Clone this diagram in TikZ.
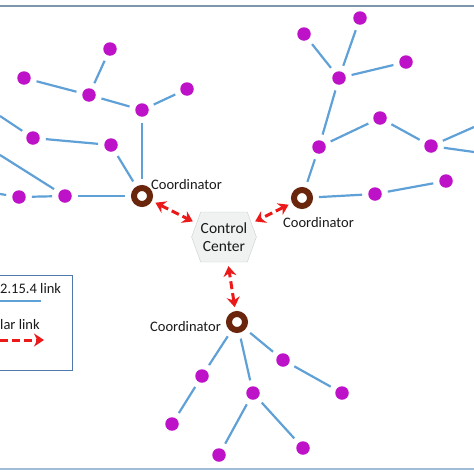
\documentclass[tikz,border=0pt]{standalone}
\usepackage{fontspec}
\setmainfont{Carlito}
\usetikzlibrary{arrows.meta,shapes.symbols}

\definecolor{sensorpurple}{RGB}{190,18,200}
\definecolor{ringbrown}{RGB}{105,38,12}
\definecolor{linkblue}{RGB}{95,160,215}
\definecolor{cellred}{RGB}{235,25,25}
\definecolor{framegray}{RGB}{125,150,172}
\definecolor{framelight}{RGB}{160,190,215}
\definecolor{legendblue}{RGB}{80,120,170}
\definecolor{ctrlfill}{RGB}{240,242,242}
\definecolor{ctrldraw}{RGB}{200,206,206}
\definecolor{textgray}{RGB}{25,25,25}

\begin{document}
\begin{tikzpicture}[x=1pt, y=-1pt,
    sensor/.style={circle, fill=sensorpurple, inner sep=0pt, minimum size=13.5pt},
    coordinator/.style={circle, draw=ringbrown, line width=6pt, inner sep=0pt, minimum size=16pt},
    ctrl/.style={signal, signal to=west and east, signal pointer angle=140, fill=ctrlfill, draw=ctrldraw,
                 minimum width=53pt, minimum height=50pt, inner sep=0pt, align=center,
                 font=\fontsize{15.5}{18}\selectfont, text=textgray},
    lbl/.style={inner sep=0pt, font=\fontsize{14.5}{17}\selectfont, text=textgray},
    link/.style={draw=linkblue, line width=2.2pt, shorten <=6pt, shorten >=6pt},
    cellular/.style={draw=cellred, line width=3pt, dash pattern=on 8pt off 4pt,
                     >={Stealth[length=10pt,width=13pt]}, shorten <=4pt, shorten >=4pt}
]
\useasboundingbox (0,0) rectangle (474,474);

% Frame lines
\coordinate (ft1) at (0,5.5);
\coordinate (ft2) at (474,5.5);
\coordinate (fb1) at (0,469);
\coordinate (fb2) at (474,469);
\draw[framegray, line width=2pt] (ft1) -- (ft2);
\draw[framelight, line width=1.5pt] (fb1) -- (fb2);

% Control center
\node[ctrl] (ctrl) at (224,237) {Control\\Center};

% Left cluster
\node[coordinator] (c1) at (142,196) {};
\node[lbl, anchor=west] (c1lbl) at (151,185) {Coordinator};
\node[sensor] (l1) at (110,49) {};
\node[sensor] (l2) at (24,78) {};
\node[sensor] (l3) at (89,95) {};
\node[sensor] (l4) at (142,110) {};
\node[sensor] (l5) at (187,89) {};
\node[sensor] (l6) at (33,138) {};
\node[sensor] (l7) at (111,145) {};
\node[sensor] (l8) at (19,197) {};
\node[sensor] (l9) at (65,196) {};
\coordinate (e1) at (0,116);
\coordinate (e2) at (0,155);
\coordinate (e3) at (0,194);

\draw[link] (l1) -- (l3);
\draw[link] (l2) -- (l3);
\draw[link] (l3) -- (l4);
\draw[link] (l4) -- (l5);
\draw[link] (l4) -- (c1);
\draw[link] (l7) -- (c1);
\draw[link] (l6) -- (l7);
\draw[link] (l9) -- (c1);
\draw[link] (l8) -- (l9);
\draw[link, shorten <=0pt] (e1) -- (l6);
\draw[link, shorten <=0pt] (e2) -- (l9);
\draw[link, shorten <=0pt] (e3) -- (l8);

% Right cluster
\node[coordinator] (c2) at (302,198) {};
\node[lbl, anchor=west] (c2lbl) at (283,223) {Coordinator};
\node[sensor] (r1) at (360,18) {};
\node[sensor] (r2) at (304,34) {};
\node[sensor] (r3) at (339,78) {};
\node[sensor] (r4) at (406,62) {};
\node[sensor] (r5) at (380,118) {};
\node[sensor] (r6) at (319,147) {};
\node[sensor] (r7) at (431,146) {};
\node[sensor] (r8) at (375,194) {};
\node[sensor] (r9) at (446,181) {};
\coordinate (e4) at (474,127);
\coordinate (e5) at (474,152);

\draw[link] (r2) -- (r3);
\draw[link] (r1) -- (r3);
\draw[link] (r3) -- (r4);
\draw[link] (r3) -- (r6);
\draw[link] (r6) -- (c2);
\draw[link] (r6) -- (r5);
\draw[link] (r5) -- (r7);
\draw[link, shorten >=0pt] (r7) -- (e4);
\draw[link, shorten >=0pt] (r7) -- (e5);
\draw[link] (c2) -- (r8);
\draw[link] (r8) -- (r9);

% Bottom cluster
\node[coordinator] (c3) at (237,322) {};
\node[lbl, anchor=west] (c3lbl) at (150,327) {Coordinator};
\node[sensor] (b1) at (283,360) {};
\node[sensor] (b2) at (342,393) {};
\node[sensor] (b3) at (253,393) {};
\node[sensor] (b4) at (303,448) {};
\node[sensor] (b5) at (202,376) {};
\node[sensor] (b6) at (172,424) {};
\node[sensor] (b7) at (219,455) {};

\draw[link] (c3) -- (b1);
\draw[link] (b1) -- (b2);
\draw[link] (c3) -- (b3);
\draw[link] (b3) -- (b4);
\draw[link] (b3) -- (b7);
\draw[link] (c3) -- (b5);
\draw[link] (b5) -- (b6);

% Cellular links
\draw[cellular, <->] (c1) -- (ctrl);
\draw[cellular, <->] (c2) -- (ctrl);
\draw[cellular, <->] (c3) -- (ctrl);

% Legend
\coordinate (lg0) at (0,275);
\coordinate (lg9) at (0,370);
\draw[legendblue, line width=1pt] (lg0) -| (72,370) -- (lg9);
\node[lbl, anchor=west] (lgtxt1) at (0,289) {2.15.4 link};
\coordinate (lg1) at (0,301);
\coordinate (lg2) at (41,301);
\draw[link, shorten <=0pt, shorten >=0pt] (lg1) -- (lg2);
\node[lbl, anchor=west] (lgtxt2) at (0,325) {lar link};
\coordinate (lg3) at (0,340);
\coordinate (lg4) at (44,340);
\draw[cellular, ->, shorten <=0pt, shorten >=0pt] (lg3) -- (lg4);

\end{tikzpicture}
\end{document}
